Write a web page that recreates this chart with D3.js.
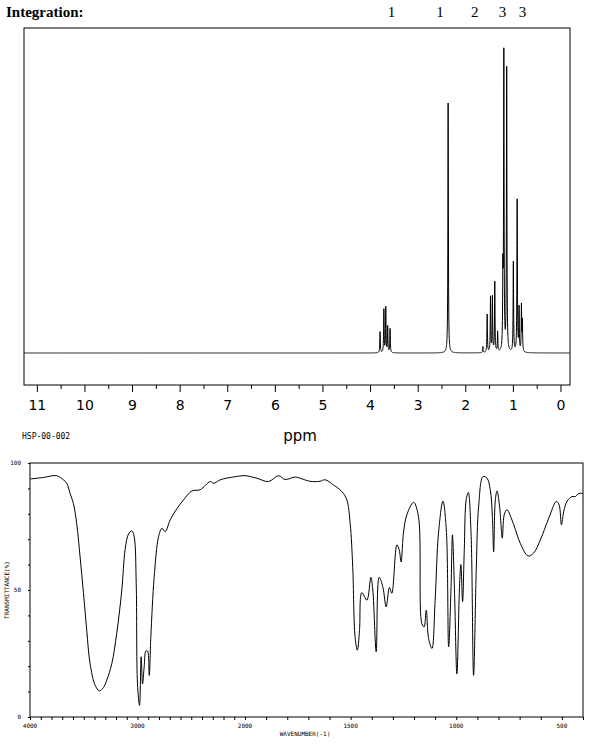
<!DOCTYPE html>
<html><head><meta charset="utf-8">
<script src="https://cdn.jsdelivr.net/npm/d3@7"></script>
<style>body{margin:0;background:#fff}svg{display:block}</style>
</head><body><svg id="c" width="593" height="747"></svg>
<script>
// ---------- NMR data ----------
const integrationLabels = ["1","1","2","3","3"];
const integrationPpm = [3.55, 2.53, 1.8, 1.22, 0.8];
const nmrTicks = [11,10,9,8,7,6,5,4,3,2,1,0];
// peak positions (ppm) and heights (arbitrary units above baseline)
const peakPpm    = [3.79,3.71,3.67,3.63,3.58, 2.36, 1.63,1.54,1.47,1.43,1.38,1.32,1.21,1.19,1.13, 0.99,0.91,0.87,0.82,0.80];
const peakHeight = [21,43,45,26,24, 250, 6,38,55,55,70,20,73,296,283, 90,152,43,46,30];
const peakWidth  = 0.006;
// ---------- IR data ----------
const irWavenumber = [4000,3876,3752,3690,3658,3627,3596,3565,3534,3503,3472,3441,3394,3354,3317,3286,3239,3193,3146,3115,3084,3053,3031,3012,3000,2981,2966,2953,2938,2922,2907,2891,2876,2845,2804,2773,2742,2696,2634,2571,2494,2416,2323,2292,2230,2106,2000,1944,1889,1841,1810,1762,1739,1692,1645,1621,1582,1542,1518,1502,1490,1479,1468,1458,1447,1423,1404,1395,1379,1365,1347,1332,1316,1305,1281,1270,1261,1250,1234,1202,1179,1163,1152,1142,1131,1115,1100,1084,1063,1047,1036,1025,1018,1008,997,984,978,970,962,953,943,930,918,905,894,873,854,839,829,823,815,807,795,782,773,760,728,697,660,634,602,562,526,513,502,491,475,452,436,420,400];
const irTransmittance = [93.7,94.3,95,93.4,92,88,84,76,63,49,34,21,12.5,10.3,11.6,14.5,21,33,50,66,72,73.3,71,52.6,13,4.6,23.7,13,19.7,26,26,16.4,31.6,55,71,74.3,73,77.6,82,85.5,89,89.5,92.7,92,93.4,94.5,95,94,92.7,95,93.5,94.5,94,92.8,92.8,93.4,91.4,88.8,85.5,76,59,31.6,26.3,34,49,46,55,50,25.7,55,51,43.4,51,48.7,67.8,65.8,61,72.4,79.6,84.5,79,36.8,35.5,42,31,27,46,72.4,85,73.7,27.6,50,71.7,48.7,17,52.6,60,45.4,65.8,85.5,88.4,72.4,16.4,59,83,94.7,94,89.5,79,65,85.5,89,83,70.4,79.6,81.6,75.7,68.4,63.4,64.5,69.7,78.3,84.9,83.5,75.7,81,85,86.8,86.8,88,88];
const irXTickLabels = [4000,3000,2000,1500,1000,500];
const irYTickLabels = [0,50,100];

const svg = d3.select("#c");
const mono = "'DejaVu Sans Mono', monospace";

// ===== NMR panel =====
const nx = d3.scaleLinear().domain([11.27,-0.2]).range([24,570]);
const ny = d3.scaleLinear().domain([-32,325]).range([385,28]);
svg.append("text").attr("x",6).attr("y",17).attr("font-family","'Liberation Serif',serif")
  .attr("font-weight","bold").attr("font-size",15).text("Integration:");
svg.selectAll(".integ").data(integrationLabels).join("text")
  .attr("x",(d,i)=>nx(integrationPpm[i])).attr("y",17).attr("text-anchor","middle")
  .attr("font-family","'Liberation Serif',serif").attr("font-size",15).text(d=>d);
svg.append("rect").attr("x",24).attr("y",28).attr("width",546).attr("height",357)
  .attr("fill","none").attr("stroke","#000").attr("stroke-width",1);
const nAxis = svg.append("g").attr("transform","translate(0,385)")
  .call(d3.axisBottom(nx).tickValues(nmrTicks).tickSize(7).tickFormat(d3.format("d")));
nAxis.select(".domain").remove();
nAxis.selectAll("text").attr("font-family","'DejaVu Sans',sans-serif").attr("font-size",14).attr("dy","1.05em");
svg.append("g").attr("transform","translate(0,385)")
  .call(d3.axisBottom(nx).tickValues(d3.range(0,11,1).map(v=>v+0.5)).tickSize(4).tickFormat(""))
  .select(".domain").remove();
svg.append("text").attr("x",300).attr("y",441).attr("text-anchor","middle")
  .attr("font-family","'DejaVu Sans',sans-serif").attr("font-size",15).text("ppm");
svg.append("text").attr("x",22).attr("y",439).attr("font-family",mono).attr("font-size",8).text("HSP-00-002");
// spectrum: sum of lorentzians at each sample ppm
const grid = d3.range(11.27,-0.2,-0.002);
const spec = grid.map(p=>{
  let s=0; peakPpm.forEach((c,i)=>{const d=(p-c)/peakWidth; s+=peakHeight[i]/(1+d*d);});
  return [p,s];
});
svg.append("path").datum(spec).attr("fill","none").attr("stroke","#000").attr("stroke-width",1)
  .attr("d",d3.line().x(d=>nx(d[0])).y(d=>ny(d[1])));

// ===== IR panel =====
const ix = d3.scaleLinear().domain([4000,2000,400]).range([30,245,583]);
const iy = d3.scaleLinear().domain([0,100]).range([717,463]);
svg.append("rect").attr("x",30).attr("y",463).attr("width",553).attr("height",254)
  .attr("fill","none").attr("stroke","#000").attr("stroke-width",1);
const xt = svg.append("g").attr("transform","translate(0,717)")
  .call(d3.axisBottom(ix).tickValues(d3.range(4000,399,-100)).tickSize(3).tickFormat(""));
xt.select(".domain").remove();
svg.selectAll(".ixl").data(irXTickLabels).join("text").attr("x",d=>ix(d)).attr("y",728)
  .attr("text-anchor","middle").attr("font-family",mono).attr("font-size",6).text(d=>d);
const yt = svg.append("g").attr("transform","translate(30,0)")
  .call(d3.axisLeft(iy).tickValues(d3.range(0,101,10)).tickSize(2).tickFormat(""));
yt.select(".domain").remove();
svg.selectAll(".iyl").data(irYTickLabels).join("text").attr("x",21).attr("y",d=>iy(d)+2)
  .attr("text-anchor","end").attr("font-family",mono).attr("font-size",6).text(d=>d);
svg.append("text").attr("transform","translate(9,590) rotate(-90)").attr("text-anchor","middle")
  .attr("font-family",mono).attr("font-size",6).text("TRANSMITTANCE(%)");
svg.append("text").attr("x",305).attr("y",736).attr("text-anchor","middle")
  .attr("font-family",mono).attr("font-size",6).text("WAVENUMBER(-1)");
svg.append("path").datum(irWavenumber.map((w,i)=>[w,irTransmittance[i]]))
  .attr("fill","none").attr("stroke","#000").attr("stroke-width",1)
  .attr("d",d3.line().x(d=>ix(d[0])).y(d=>iy(d[1])).curve(d3.curveCatmullRom.alpha(0.5)));
</script></body></html>
